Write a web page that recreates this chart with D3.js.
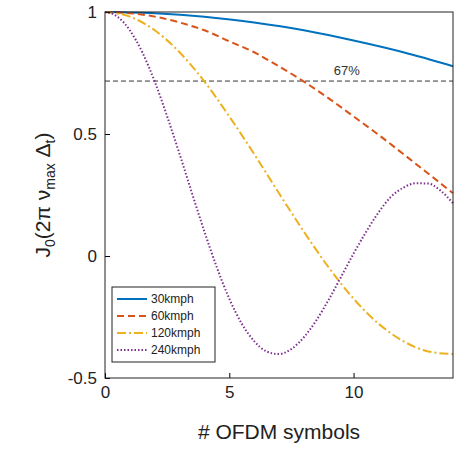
<!DOCTYPE html><html><head><script src="https://d3js.org/d3.v7.min.js"></script>
<style>body{margin:0;background:#fff}text{font-family:Arial,"Liberation Sans",sans-serif}</style></head><body><script>
const xs240=[0,0.5,1,1.5,2,2.5,3,3.5,4,4.5,5,5.5,6,6.5,7,7.5,8,8.5,9,9.5,10,10.5,11,11.5,12,12.5,13,13.5,14];
const v240=[1,.981,.925,.835,.715,.572,.418,.257,.100,-.047,-.175,-.277,-.349,-.391,-.402,-.381,-.333,-.264,-.179,-.085,.010,.098,.178,.242,.280,.298,.297,.268,.216];
const xs120=[0,1,2,3,4,5,6,7,8,9,10,11,12,13,14];
const v120=[1,.981,.925,.835,.715,.572,.418,.257,.100,-.047,-.175,-.277,-.349,-.391,-.402];
const xs60=[0,1,2,3,4,5,6,7,8,9,10,11,12,13,14];
const v60=[1,.995,.981,.957,.925,.880,.835,.777,.715,.646,.572,.497,.418,.338,.257];
const xs30=[0,2,4,6,8,10,12,14];
const v30=[1,.995,.981,.957,.925,.883,.835,.778];
const names=["30kmph","60kmph","120kmph","240kmph"];
const xTicks=[0,5,10], yTicks=[-0.5,0,0.5,1];
const thresh=0.717;
const W=474,H=461,m={l:105,r:21,t:12,b:83};
const svg=d3.select("body").append("svg").attr("width",W).attr("height",H);
const x=d3.scaleLinear().domain([0,14]).range([m.l,W-m.r]);
const y=d3.scaleLinear().domain([-0.5,1]).range([H-m.b,m.t]);
const series=[{xs:xs30,v:v30,c:"#0072BD",d:null},{xs:xs60,v:v60,c:"#D95319",d:"7,4"},{xs:xs120,v:v120,c:"#EDB120",d:"9,3,2,3"},{xs:xs240,v:v240,c:"#7E2F8E",d:"1.5,2"}];
svg.append("line").attr("x1",x(0)).attr("x2",x(14)).attr("y1",y(thresh)).attr("y2",y(thresh)).attr("stroke","#333").attr("stroke-dasharray","5,3");
svg.append("text").attr("x",x(9.2)).attr("y",y(thresh)-6).attr("font-size",13).attr("fill","#333").text("67%");
const line=d3.line().curve(d3.curveMonotoneX);
series.forEach(s=>svg.append("path").attr("d",line(s.xs.map((t,i)=>[x(t),y(s.v[i])]))).attr("fill","none").attr("stroke",s.c).attr("stroke-width",2).attr("stroke-dasharray",s.d));
const ax=svg.append("g").attr("transform",`translate(0,${H-m.b})`).call(d3.axisBottom(x).tickValues(xTicks).tickSizeInner(-5).tickSizeOuter(0).tickPadding(8));
const ay=svg.append("g").attr("transform",`translate(${m.l},0)`).call(d3.axisLeft(y).tickValues(yTicks).tickFormat(d=>d).tickSizeInner(-5).tickSizeOuter(0).tickPadding(8));
[ax,ay].forEach(g=>{g.selectAll("text").attr("font-size",17).attr("fill","#222");g.select(".domain").remove();});
svg.append("rect").attr("x",m.l).attr("y",m.t).attr("width",W-m.l-m.r).attr("height",H-m.t-m.b).attr("fill","none").attr("stroke","#222");
svg.append("text").attr("x",(m.l+W-m.r)/2).attr("y",H-22).attr("text-anchor","middle").attr("font-size",21).attr("fill","#222").text("# OFDM symbols");
const yl=svg.append("text").attr("transform",`translate(50,${(m.t+H-m.b)/2}) rotate(-90)`).attr("text-anchor","middle").attr("font-size",21).attr("fill","#222");
yl.append("tspan").text("J");yl.append("tspan").attr("font-size",14).attr("dy",5).text("0");
yl.append("tspan").attr("dy",-5).text("(2π ν");yl.append("tspan").attr("font-size",14).attr("dy",5).text("max");
yl.append("tspan").attr("dy",-5).text(" Δ");yl.append("tspan").attr("font-size",14).attr("dy",5).text("t");yl.append("tspan").attr("dy",-5).text(")");
const lg=svg.append("g").attr("transform","translate(112,287)");
lg.append("rect").attr("width",103).attr("height",75).attr("fill","#fff").attr("stroke","#222");
series.forEach((s,i)=>{const yy=12+i*17;
lg.append("line").attr("x1",5).attr("x2",35).attr("y1",yy).attr("y2",yy).attr("stroke",s.c).attr("stroke-width",2).attr("stroke-dasharray",s.d);
lg.append("text").attr("x",39).attr("y",yy+4).attr("font-size",12).attr("fill","#222").text(names[i]);});
</script></body></html>
